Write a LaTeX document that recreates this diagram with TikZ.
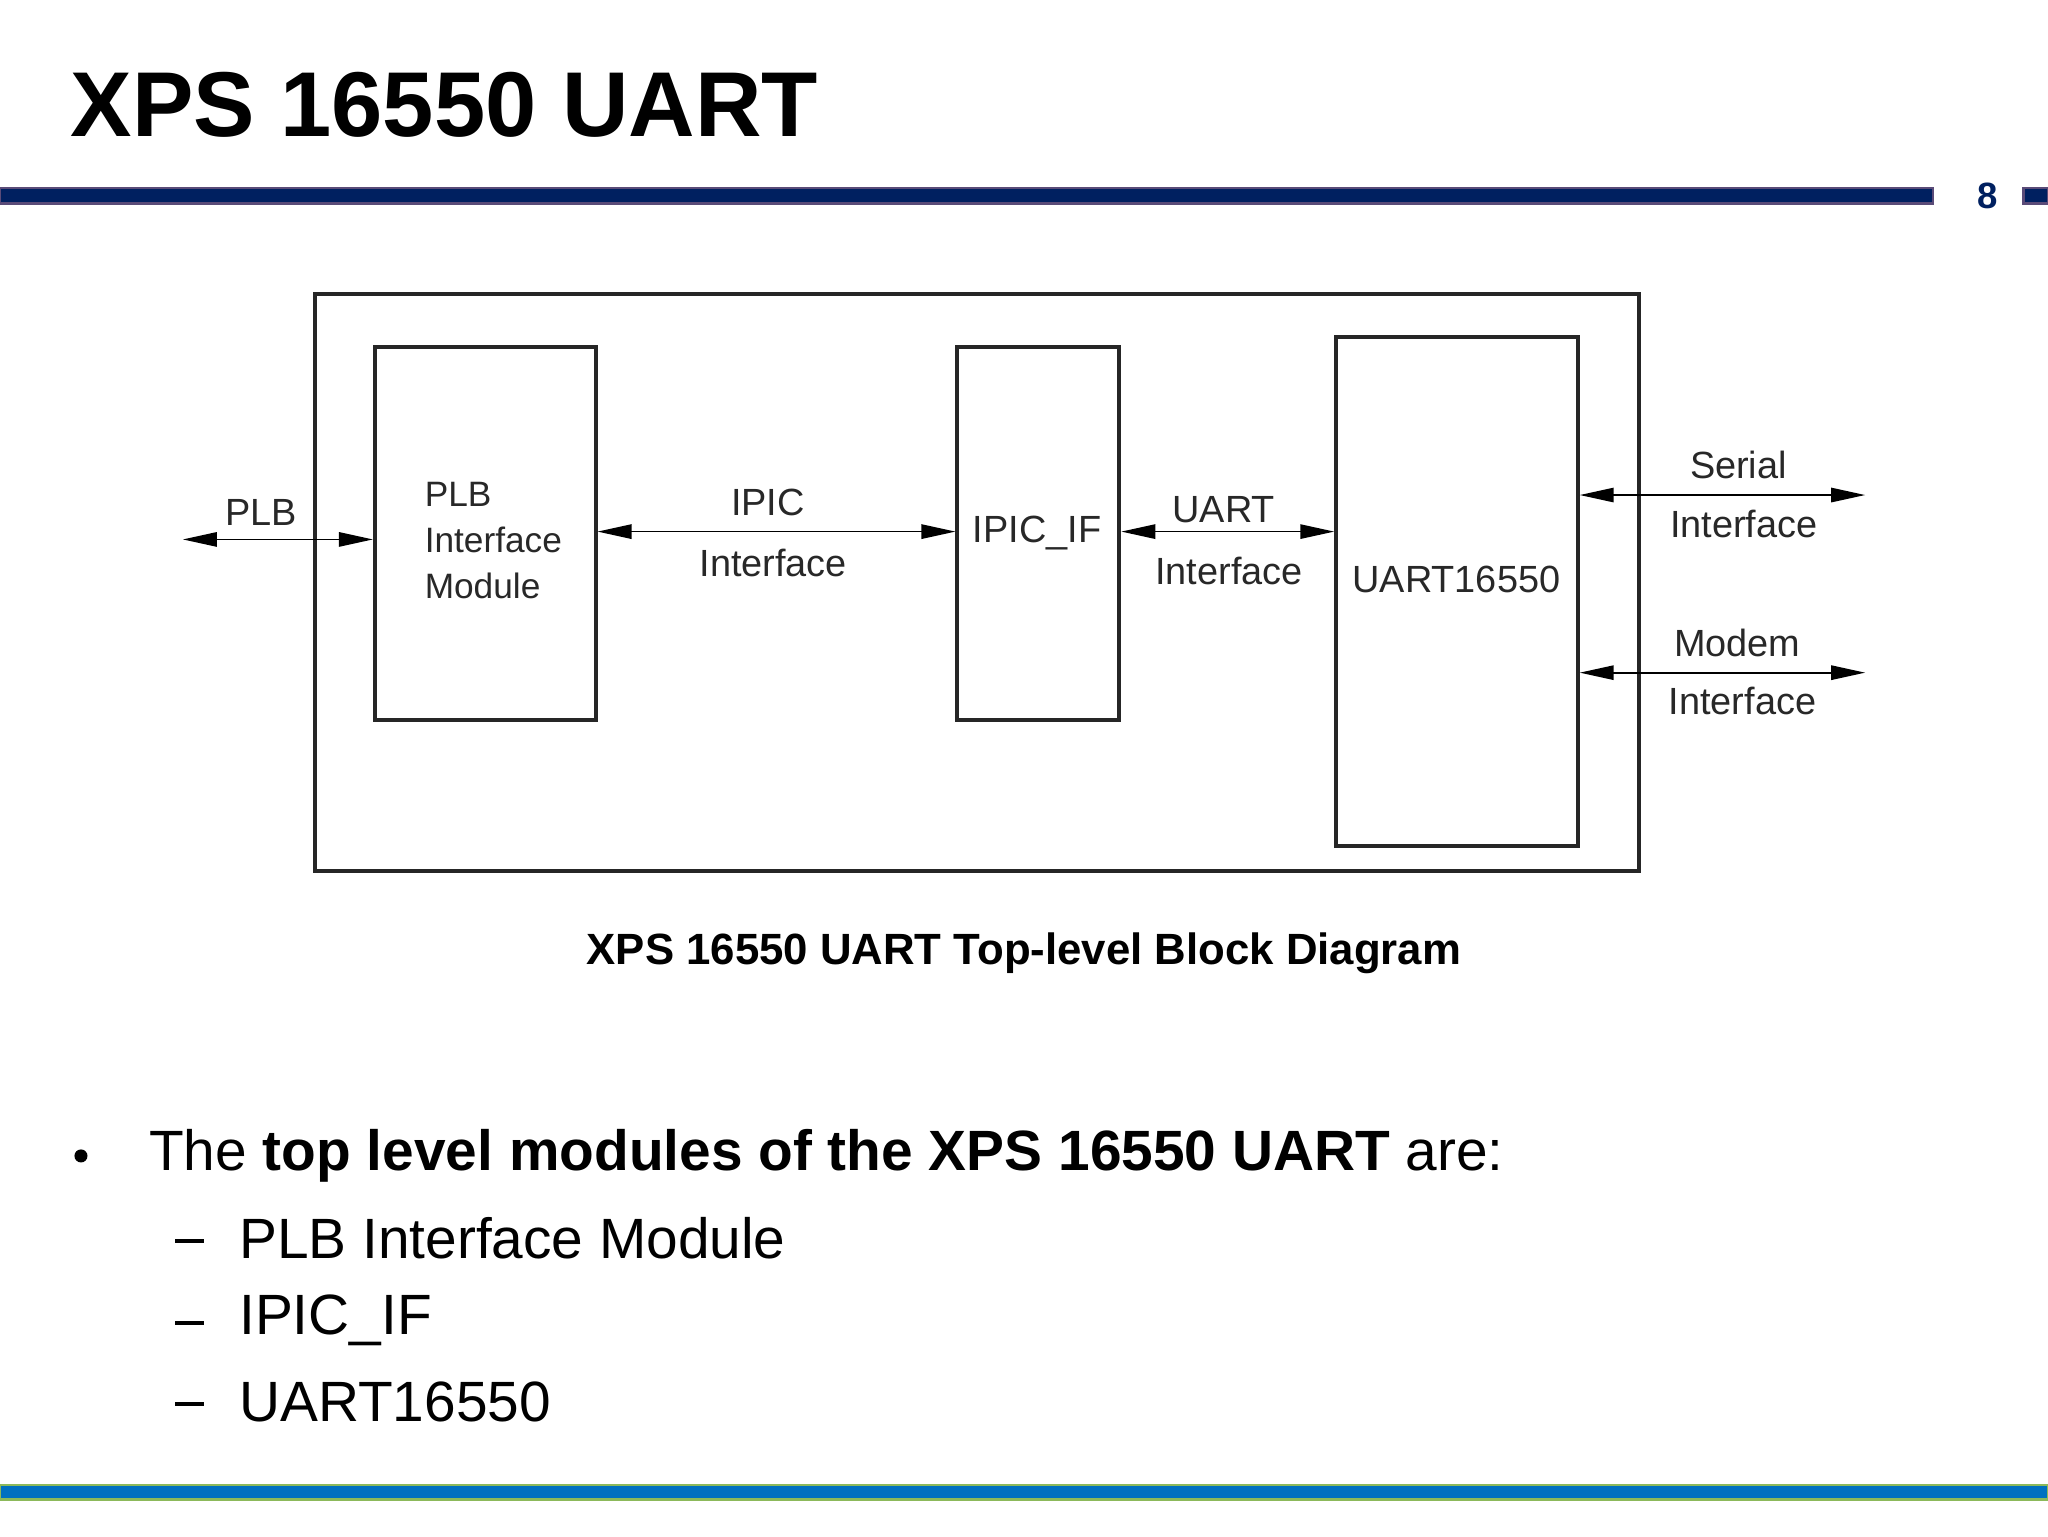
\documentclass[tikz,border=0pt]{standalone}
\usepackage{fontspec}
\setmainfont{Liberation Sans}
\usetikzlibrary{arrows.meta}
\definecolor{navy}{RGB}{0,32,96}
\definecolor{purp}{RGB}{90,75,120}
\definecolor{blu}{RGB}{0,112,192}
\definecolor{grn}{RGB}{140,185,90}
\definecolor{lab}{RGB}{40,40,40}
\begin{document}
\begin{tikzpicture}[x=1pt,y=-1pt,
  blk/.style={draw=black!85,line width=3pt},
  biarrow/.style={line width=1.3pt,{Triangle[length=26pt,width=11pt]}-{Triangle[length=26pt,width=11pt]}},
  lbl/.style={font=\fontsize{29}{34}\selectfont,text=lab,inner sep=0pt},
  body/.style={anchor=west,inner sep=0pt,font=\fontsize{43.5}{48}\selectfont},
  dashmark/.style={fill=black,minimum width=22pt,minimum height=2.6pt,inner sep=0pt}]
\useasboundingbox (0,0) rectangle (1568,1176);
\node[anchor=west,inner sep=0pt,font=\fontsize{70.5}{80}\selectfont\bfseries] (title) at (54,80) {XPS 16550 UART};
\draw[fill=navy,draw=purp,line width=2pt] (0,144) rectangle (1480,156);
\draw[fill=navy,draw=purp,line width=2pt] (1549,144) rectangle (1568,156);
\node[font=\fontsize{28}{30}\selectfont\bfseries,text=navy] (pg) at (1522,150) {8};
\draw[fill=blu,draw=grn,line width=2pt] (0,1137) rectangle (1568,1148);
\draw[blk] (241,225) rectangle (1255,667);
\node[blk,minimum width=169pt,minimum height=285pt] (plb) at (371.5,408.5) {};
\node[blk,minimum width=124pt,minimum height=285pt] (ipic) at (795,408.5) {};
\node[blk,minimum width=185pt,minimum height=390pt] (uart) at (1115.5,453) {};
\coordinate (plbL) at (140,413);
\coordinate (sR) at (1428,379);
\coordinate (mR) at (1428,515);
\draw[biarrow] (plbL) -- (plbL -| plb.west);
\draw[biarrow] (plb.east |- 0,407) -- (ipic.west |- 0,407);
\draw[biarrow] (ipic.east |- 0,407) -- (uart.west |- 0,407);
\draw[biarrow] (uart.east |- sR) -- (sR);
\draw[biarrow] (uart.east |- mR) -- (mR);
\node[lbl] (l1) at (200,392) {PLB};
\node[lbl,align=left,anchor=west,font=\fontsize{27}{35}\selectfont] (l2) at (325,414) {PLB\\Interface\\Module};
\node[lbl] (l3) at (588,385) {IPIC};
\node[lbl] (l4) at (592,431) {Interface};
\node[lbl] (l5) at (794,408) {IPIC\_IF};
\node[lbl] (l6) at (937,390) {UART};
\node[lbl] (l7) at (941,437) {Interface};
\node[lbl] (l8) at (1115,444) {UART16550};
\node[lbl] (l9) at (1331,356) {Serial};
\node[lbl] (l10) at (1335,401) {Interface};
\node[lbl] (l11) at (1330,492) {Modem};
\node[lbl] (l12) at (1334,537) {Interface};
\node[inner sep=0pt,font=\fontsize{33.5}{36}\selectfont\bfseries] (cap) at (784,730) {XPS 16550 UART Top-level Block Diagram};
\node[circle,fill=black,minimum size=10pt,inner sep=0pt] (b0) at (62,885) {};
\node[body] (b1) at (114,885) {The \textbf{top level modules of the XPS 16550 UART} are:};
\node[dashmark] (d1) at (145,950) {};
\node[body] (s1) at (183,948) {PLB Interface Module};
\node[dashmark] (d2) at (145,1013) {};
\node[body] (s2) at (183,1011) {IPIC\_IF};
\node[dashmark] (d3) at (145,1075) {};
\node[body] (s3) at (183,1073) {UART16550};
\end{tikzpicture}
\end{document}
